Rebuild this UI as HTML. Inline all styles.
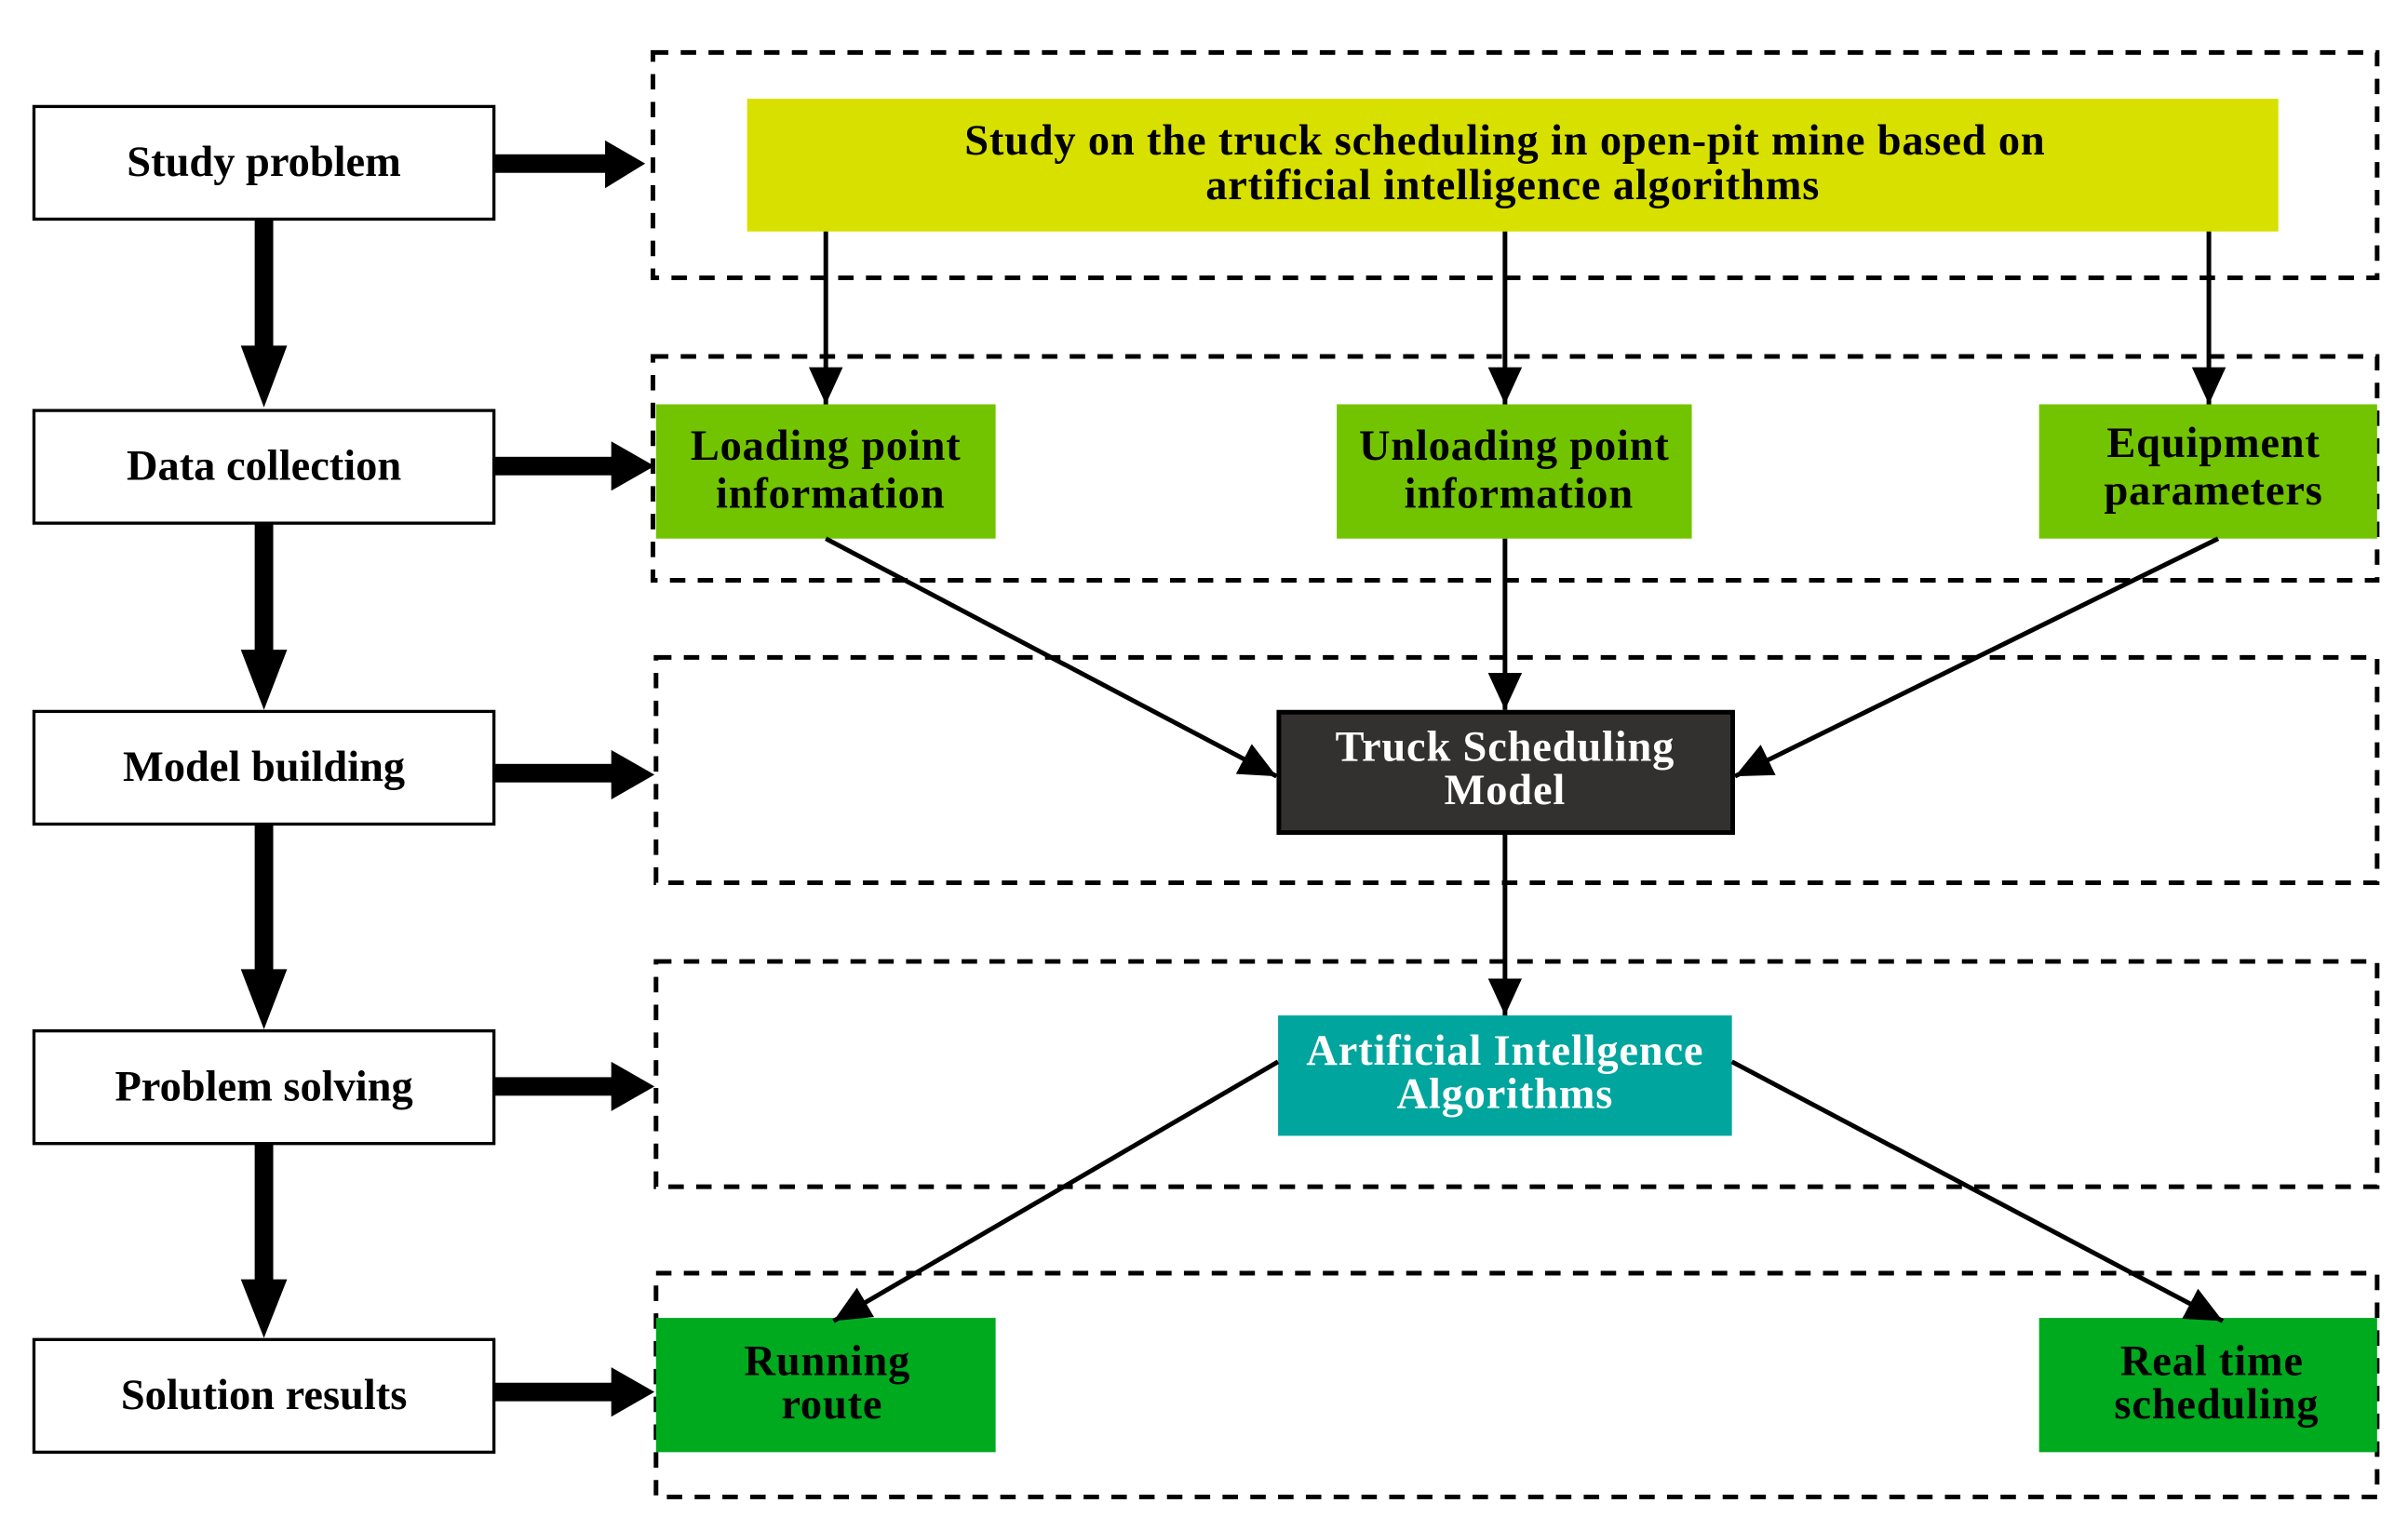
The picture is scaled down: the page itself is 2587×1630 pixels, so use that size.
<!DOCTYPE html>
<html><head><meta charset="utf-8"><style>html,body{margin:0;padding:0;background:#fff}svg{display:block}</style></head>
<body>
<svg width="2587" height="1630" viewBox="0 0 1560 983" preserveAspectRatio="none" xmlns="http://www.w3.org/2000/svg" font-family="'Liberation Serif', serif" font-weight="bold">
<defs>
<marker id="a" markerWidth="24" markerHeight="22" refX="24" refY="11" orient="auto" markerUnits="userSpaceOnUse" viewBox="0 0 24 22"><path d="M0,0 L24,11 L0,22 z" fill="#000"/></marker>
</defs>
<rect width="1560" height="983" fill="#fff"/>
<g fill="none" stroke="#000" stroke-width="3" stroke-dasharray="10,8">
<rect x="423" y="34" width="1117" height="146"/>
<rect x="423" y="231" width="1117" height="145"/>
<rect x="425" y="426" width="1115" height="146"/>
<rect x="425" y="623" width="1115" height="146"/>
<rect x="425" y="825" width="1115" height="145"/>
</g>
<g fill="#fff" stroke="#000" stroke-width="2">
<rect x="22" y="69" width="298" height="73"/>
<rect x="22" y="266" width="298" height="73"/>
<rect x="22" y="461" width="298" height="73"/>
<rect x="22" y="668" width="298" height="73"/>
<rect x="22" y="868" width="298" height="73"/>
</g>
<g font-size="28" text-anchor="middle" fill="#000">
<text x="171" y="114">Study problem</text>
<text x="171" y="311">Data collection</text>
<text x="171" y="506">Model building</text>
<text x="171" y="713">Problem solving</text>
<text x="171" y="913">Solution results</text>
</g>
<g fill="#000">
<rect x="165" y="142" width="12" height="84"/><path d="M156,224 L186,224 L171,264 z"/>
<rect x="165" y="339" width="12" height="84"/><path d="M156,421 L186,421 L171,460 z"/>
<rect x="165" y="534" width="12" height="96"/><path d="M156,628 L186,628 L171,667 z"/>
<rect x="165" y="741" width="12" height="90"/><path d="M156,829 L186,829 L171,867 z"/>
<rect x="320" y="100" width="76" height="12"/><path d="M392,91 L392,122 L418,106 z"/>
<rect x="320" y="296" width="80" height="12"/><path d="M396,286 L396,318 L424,302 z"/>
<rect x="320" y="495" width="80" height="12"/><path d="M396,486 L396,518 L424,502 z"/>
<rect x="320" y="698" width="80" height="12"/><path d="M396,688 L396,720 L424,704 z"/>
<rect x="320" y="896" width="80" height="12"/><path d="M396,886 L396,918 L424,902 z"/>
</g>
<rect x="484" y="64" width="992" height="86" fill="#d8e000"/>
<rect x="425" y="262" width="220" height="87" fill="#72c400"/>
<rect x="866" y="262" width="230" height="87" fill="#72c400"/>
<rect x="1321" y="262" width="219" height="87" fill="#72c400"/>
<rect x="828.5" y="461.5" width="294" height="78" fill="#333030" stroke="#000" stroke-width="3"/>
<rect x="828" y="658" width="294" height="78" fill="#00a59e"/>
<rect x="425" y="854" width="220" height="87" fill="#00aa1e"/>
<rect x="1321" y="854" width="219" height="87" fill="#00aa1e"/>
<g stroke="#000" stroke-width="3" fill="none" marker-end="url(#a)">
<line x1="535" y1="150" x2="535" y2="262"/>
<line x1="975" y1="150" x2="975" y2="262"/>
<line x1="1431" y1="150" x2="1431" y2="262"/>
<line x1="535" y1="349" x2="827" y2="503"/>
<line x1="975" y1="349" x2="975" y2="460"/>
<line x1="1437" y1="349" x2="1124" y2="503"/>
<line x1="975" y1="540" x2="975" y2="658"/>
<line x1="828" y1="688" x2="540" y2="856"/>
<line x1="1122" y1="688" x2="1440" y2="856"/>
</g>
<g font-size="28" text-anchor="middle" fill="#000" letter-spacing="0.5">
<text x="975" y="100">Study on the truck scheduling in open-pit mine  based on</text>
<text x="980" y="129">artificial intelligence algorithms</text>
<text x="535" y="298">Loading point</text>
<text x="538" y="329">information</text>
<text x="981" y="298">Unloading point</text>
<text x="984" y="329">information</text>
<text x="1434" y="296">Equipment</text>
<text x="1434" y="327">parameters</text>
<text x="536" y="891">Running</text>
<text x="539" y="919">route</text>
<text x="1433" y="891">Real time</text>
<text x="1436" y="919">scheduling</text>
</g>
<g font-size="28" text-anchor="middle" fill="#fff" letter-spacing="0.5">
<text x="975" y="493">Truck Scheduling</text>
<text x="975" y="521">Model</text>
<text x="975" y="690">Artificial Intellgence</text>
<text x="975" y="718">Algorithms</text>
</g>
</svg>
</body></html>
